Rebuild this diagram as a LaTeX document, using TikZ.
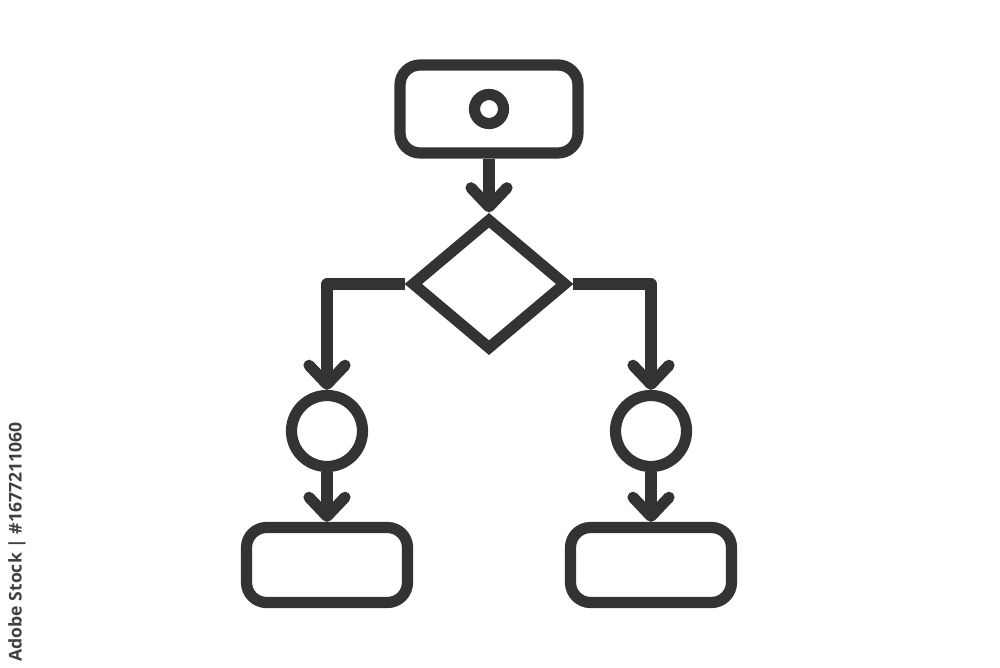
\documentclass[tikz,border=0pt]{standalone}
\usepackage{fontspec}
\newfontfamily\stockfont{Open Sans}
\usepackage{tikz}
\usetikzlibrary{shapes.geometric, arrows.meta}

\definecolor{iconGray}{HTML}{333333}

\begin{document}
\begin{tikzpicture}[line width=1.12mm, draw=iconGray,
	box node/.style={rectangle, rounded corners=2mm, draw=iconGray, inner sep=0pt},
	choice node/.style={diamond, draw=iconGray, inner sep=0pt, minimum width=1.56cm, minimum height=1.32cm},
	ring node/.style={circle, draw=iconGray, inner sep=0pt},
	flow/.style={iconGray, line join=round, -{Straight Barb[length=1.9mm, width=3.6mm, round]}}]

	\useasboundingbox (0,0) rectangle (10,6.67);

	% boxes and decision
	\node[box node, minimum width=1.78cm, minimum height=0.88cm] (start) at (4.89,5.58) {};
	\node[ring node, minimum size=0.29cm] (dot) at (start) {};
	\node[choice node] (choice) at (4.89,3.83) {};

	\node[ring node, minimum size=0.71cm] (left) at (3.27,2.36) {};
	\node[ring node, minimum size=0.71cm] (right) at (6.51,2.36) {};

	\node[box node, minimum width=1.61cm, minimum height=0.75cm] (leftend) at (3.27,1.02) {};
	\node[box node, minimum width=1.61cm, minimum height=0.75cm] (rightend) at (6.51,1.02) {};

	% draw flow
	\draw[flow] (start) -- (choice);
	\draw[flow] (choice.west) -| (left);
	\draw[flow] (choice.east) -| (right);
	\draw[flow] (left) -- (leftend);
	\draw[flow] (right) -- (rightend);

	% stock label on the left edge
	\node[rotate=90, text=black!75, font=\stockfont\bfseries\fontsize{5}{6}\selectfont] (stock) at (0.17,1.25) {Adobe Stock | \#1677211060};

\end{tikzpicture}
\end{document}
